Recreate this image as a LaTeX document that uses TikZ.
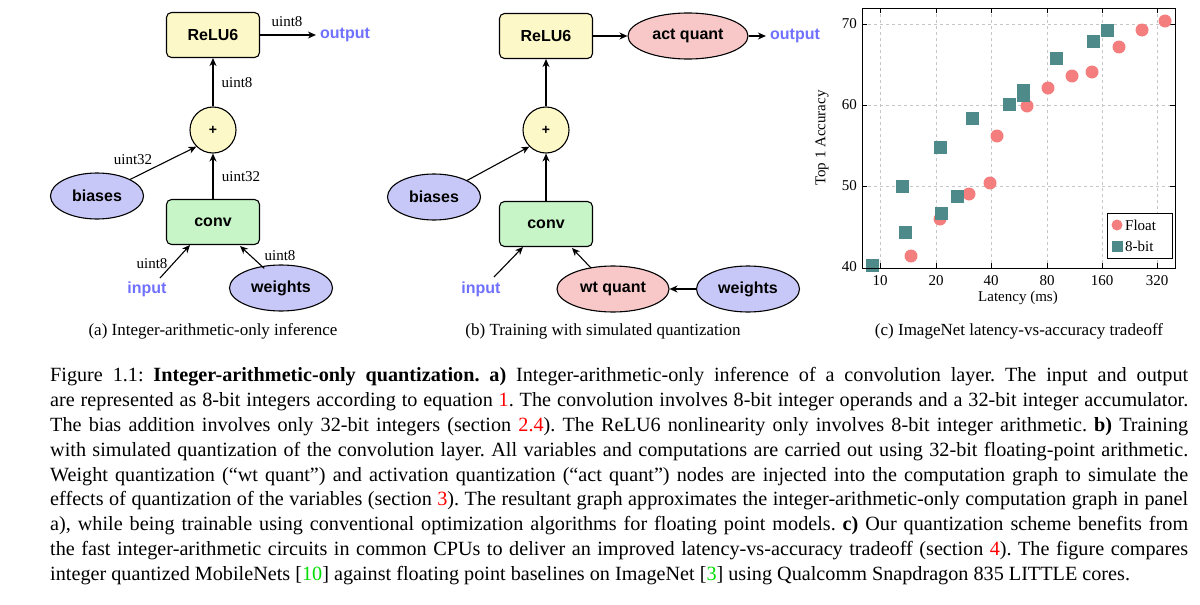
\documentclass[tikz,border=0pt]{standalone}
\usepackage{fontspec}
\setmainfont{Liberation Serif}
\newfontfamily\nodefont{Liberation Sans}
\usetikzlibrary{shapes.geometric,arrows.meta}
\definecolor{boxy}{HTML}{FDF8C8}
\definecolor{boxg}{HTML}{C8F5C8}
\definecolor{ellb}{HTML}{C8C8F8}
\definecolor{ellr}{HTML}{F8C8C8}
\definecolor{txtb}{HTML}{7070FF}
\definecolor{fl}{HTML}{F47E7E}
\definecolor{eb}{HTML}{4F8A8B}
\definecolor{refr}{HTML}{FF0000}
\definecolor{refg}{HTML}{00DD00}
\begin{document}
\begin{tikzpicture}[x=1pt,y=-1pt,
  every node/.style={inner sep=0pt},
  box/.style={draw,line width=1.1pt,rounded corners=5pt,minimum width=93pt,minimum height=45pt,font=\nodefont\bfseries\fontsize{16}{16}\selectfont},
  circ/.style={draw,line width=1.1pt,circle,minimum size=46pt,fill=boxy,font=\nodefont\bfseries\fontsize{14}{14}\selectfont},
  ell/.style={draw,line width=1.1pt,ellipse,minimum height=46pt,font=\nodefont\bfseries\fontsize{16}{16}\selectfont},
  io/.style={text=txtb,font=\nodefont\bfseries\fontsize{16}{16}\selectfont},
  lab/.style={font=\fontsize{15}{15}\selectfont},
  arr/.style={line width=1.1pt,-{Stealth[length=8pt,width=7pt]}},
  sub/.style={font=\fontsize{17}{17}\selectfont},
  sq/.style={fill=eb,minimum size=13pt,rectangle},
  ci/.style={fill=fl,circle,minimum size=13pt}]
\useasboundingbox (0,0) rectangle (1200,605);
% panel a
\node[box,fill=boxy] (r1) at (213,35) {ReLU6};
\node[io] (o1) at (345,35) {output};
\node[circ] (p1) at (213,130) {+};
\node[ell,fill=ellb,minimum width=93pt] (b1) at (97,196) {biases};
\node[box,fill=boxg] (c1) at (213,222) {conv};
\node[io] (i1) at (147,289) {input};
\node[ell,fill=ellb,minimum width=103pt] (w1) at (281,288) {weights};
\coordinate (i1s) at (160,278);
\draw[arr] (r1.east) -- ([xshift=-4pt]o1.west);
\draw[arr] (p1) -- (r1);
\draw[arr] (b1.north east) -- (p1.south west);
\draw[arr] (c1) -- (p1);
\draw[arr] (i1s) -- (c1.south west -| 190,0);
\draw[arr] (w1.north west) ++(20,-3) coordinate (w1s) -- (240,246);
\node[lab] (la1) at (287,22) {uint8};
\node[lab] (la2) at (237,83) {uint8};
\node[lab] (la3) at (133,160) {uint32};
\node[lab] (la4) at (241,177) {uint32};
\node[lab] (la5) at (152,264) {uint8};
\node[lab] (la6) at (280,256) {uint8};
\node[sub] (ca) at (213,331) {(a) Integer-arithmetic-only inference};
% panel b
\node[box,fill=boxy] (r2) at (546,36) {ReLU6};
\node[ell,fill=ellr,minimum width=120pt] (a2) at (688,36) {act quant};
\node[io] (o2) at (795,36) {output};
\node[circ] (p2) at (546,130) {+};
\node[ell,fill=ellb,minimum width=93pt] (b2) at (434,197) {biases};
\node[box,fill=boxg] (c2) at (546,224) {conv};
\node[io] (i2) at (481,289) {input};
\node[ell,fill=ellr,minimum width=112pt] (q2) at (613,289) {wt quant};
\node[ell,fill=ellb,minimum width=103pt] (w2) at (748,289) {weights};
\draw[arr] (r2) -- (a2);
\draw[arr] (a2) -- ([xshift=-4pt]o2.west);
\draw[arr] (p2) -- (r2);
\draw[arr] (b2.north east) -- (p2.south west);
\draw[arr] (c2) -- (p2);
\coordinate (i2s) at (494,277);
\draw[arr] (i2s) -- (523,247);
\draw[arr] (591,268) -- (572,248);
\draw[arr] (w2) -- (q2);
\node[sub] (cb) at (603,331) {(b) Training with simulated quantization};
% panel c
\draw[gray!45,dashed] (880,8) -- (880,268) (936,8) -- (936,268) (991,8) -- (991,268) (1047,8) -- (1047,268) (1102,8) -- (1102,268) (1157,8) -- (1157,268);
\draw[gray!45,dashed] (862,24) -- (1175,24) (862,105) -- (1175,105) (862,186) -- (1175,186);
\foreach \x in {880,936,991,1047,1102,1157} {\draw (\x,268) -- (\x,263); \draw (\x,8) -- (\x,13);}
\foreach \y in {24,105,186} {\draw (862,\y) -- (867,\y); \draw (1175,\y) -- (1170,\y);}
\foreach \x/\y in {911/256,940/219,969/194,990/183,997/136,1027/106,1048/88,1072/76,1092/72,1119/47,1142/30,1165/21} \node[ci] at (\x,\y) {};
\foreach \x/\y in {872/265,902/186,905/232,940/147,941/213,957/196,972/118,1009/104,1023/90,1023/95,1056/58,1093/41,1107/30} \node[sq] at (\x,\y) {};
\draw (862,8) rectangle (1175,268);
\node[lab,anchor=east] at (857,24) {70};
\node[lab,anchor=east] at (857,105) {60};
\node[lab,anchor=east] at (857,186) {50};
\node[lab,anchor=east] at (857,267) {40};
\foreach \x/\t in {880/10,936/20,991/40,1047/80,1102/160,1157/320} \node[lab] at (\x,281) {\t};
\node[lab,rotate=90] at (822,138) {Top 1 Accuracy};
\node[lab] at (1018,298) {Latency (ms)};
\draw[fill=white] (1107,213) rectangle (1172,258);
\node[ci,minimum size=11pt] at (1117,225) {};
\node[sq,minimum size=11pt] at (1117,246) {};
\node[lab,anchor=west] at (1125,225) {Float};
\node[lab,anchor=west] at (1125,246) {8-bit};
\node[sub] (cc) at (1019,331) {(c) ImageNet latency-vs-accuracy tradeoff};
% caption
\node[anchor=north west,text width=1138pt,align=justify,font=\fontsize{20.2}{24.9}\selectfont\frenchspacing] at (50,367) {Figure 1.1: \textbf{Integer-arithmetic-only quantization. a)} Integer-arithmetic-only inference of a convolution layer. The input and output\linebreak are represented as 8-bit integers according to equation \textcolor{refr}{1}. The convolution involves 8-bit integer operands and a 32-bit integer accumulator.\linebreak The bias addition involves only 32-bit integers (section \textcolor{refr}{2.4}). The ReLU6 nonlinearity only involves 8-bit integer arithmetic. \textbf{b)} Training\linebreak with simulated quantization of the convolution layer. All variables and computations are carried out using 32-bit floating-point arithmetic.\linebreak Weight quantization (``wt quant'') and activation quantization (``act quant'') nodes are injected into the computation graph to simulate the\linebreak effects of quantization of the variables (section \textcolor{refr}{3}). The resultant graph approximates the integer-arithmetic-only computation graph in panel\linebreak a), while being trainable using conventional optimization algorithms for floating point models. \textbf{c)} Our quantization scheme benefits from\linebreak the fast integer-arithmetic circuits in common CPUs to deliver an improved latency-vs-accuracy tradeoff (section \textcolor{refr}{4}). The figure compares\linebreak integer quantized MobileNets [\textcolor{refg}{10}] against floating point baselines on ImageNet [\textcolor{refg}{3}] using Qualcomm Snapdragon 835 LITTLE cores.};
\end{tikzpicture}
\end{document}
